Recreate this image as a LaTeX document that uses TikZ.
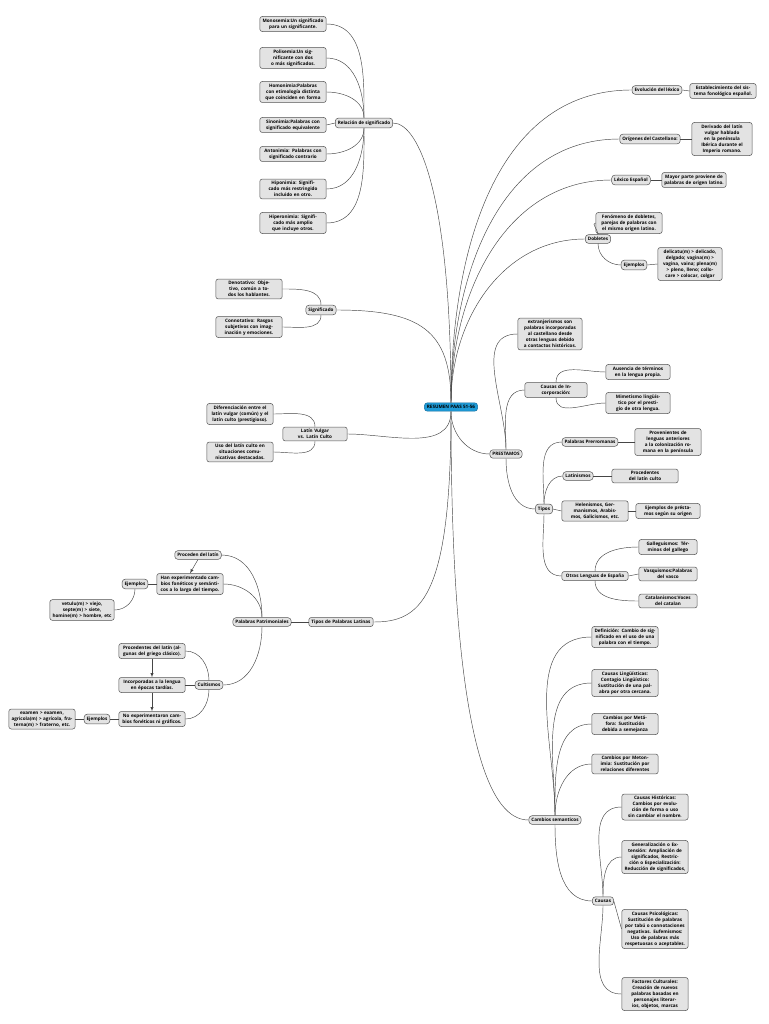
\documentclass[tikz,border=0pt]{standalone}
\usepackage{fontspec}
\setmainfont{Open Sans}
\begin{document}
\begin{tikzpicture}[x=1pt,y=-1pt,
  box/.style={draw=gray!65!black, fill=gray!22, rounded corners=2.5pt, align=center,
    font=\fontsize{4.6}{6}\selectfont\bfseries, inner sep=2.2pt, text width=#1pt, line width=0.5pt},
  box/.default=60,
  tag/.style={draw=gray!65!black, fill=gray!22, rounded corners=3pt, align=center,
    font=\fontsize{4.6}{6}\selectfont\bfseries, inner sep=2.5pt, line width=0.5pt},
  ln/.style={draw=gray!55!black, line width=0.45pt},
  arr/.style={ln, -latex}]
\useasboundingbox (0,0) rectangle (768,1024);
\fill[white] (0,0) rectangle (768,1024);

% centre
\node[tag, fill={rgb,255:red,30;green,155;blue,215}, draw={rgb,255:red,20;green,110;blue,160}] (main) at (451,407) {RESUMEN PAAS 51-56};

% ---------- left top
\node[tag] (rel) at (364,123) {Relación de significado};
\node[box=62] (mono) at (293,24) {Monosemia:Un significado para un significante.};
\node[box=62] (poli) at (293,58) {Polisemia:Un significante con dos o más significados.};
\node[box=62] (homo) at (293,92) {Homonimia:Palabras con etimología distinta que coinciden en forma};
\node[box=62] (sino) at (293,125) {Sinonimia:Palabras con significado equivalente};
\node[box=62] (anto) at (293,154) {Antonimia: Palabras con significado contrario};
\node[box=62] (hipo) at (293,189) {Hiponimia: Significado más restringido incluido en otro.};
\node[box=62] (hipe) at (293,223) {Hiperonimia: Significado más amplio que incluye otros.};
\foreach \n in {mono,poli,homo} \draw[ln] (rel.north) to[out=90,in=0] (\n.east);
\draw[ln] (rel.west) -- (sino.east);
\foreach \n in {anto,hipo,hipe} \draw[ln] (rel.south) to[out=-90,in=0] (\n.east);
\draw[ln] (main.north) .. controls (451,200) and (420,123) .. (rel.east);

\node[tag] (sig) at (321,310) {Significado};
\node[box=62] (deno) at (249,289) {Denotativo: Objetivo, común a todos los hablantes.};
\node[box=62] (conno) at (249,327) {Connotativo: Rasgos subjetivos con imaginación y emociones.};
\draw[ln] (sig.north) to[out=90,in=0] (deno.east);
\draw[ln] (sig.south) to[out=-90,in=0] (conno.east);
\draw[ln] (main.north) .. controls (451,330) and (420,310) .. (sig.east);

\node[box=60] (lvc) at (315,434) {Latín Vulgar vs. Latín Culto};
\node[box=62] (dif) at (240,414) {Diferenciación entre el latín vulgar (común) y el latín culto (prestigioso).};
\node[box=62] (uso) at (240,452) {Uso del latín culto en situaciones comunicativas destacadas.};
\draw[ln] (lvc.north) to[out=90,in=0] (dif.east);
\draw[ln] (lvc.south) to[out=-90,in=0] (uso.east);
\draw[ln] (main.south) to[out=-90,in=0] (lvc.east);

% ---------- left bottom
\node[box=60] (tipos) at (341,622) {Tipos de Palabras Latinas};
\node[tag] (patr) at (262,622) {Palabras Patrimoniales};
\node[tag] (proc) at (198,555) {Proceden del latín};
\node[box=62] (han) at (190,584) {Han experimentado cambios fonéticos y semánticos a lo largo del tiempo.};
\node[tag] (ej1) at (135,584) {Ejemplos};
\node[box=60] (vet) at (82,610) {vetulu(m) > viejo, septe(m) > siete, homine(m) > hombre, etc};
\node[tag] (cult) at (209,685) {Cultismos};
\node[box=62] (pdl) at (152,651) {Procedentes del latín (algunas del griego clásico).};
\node[box=62] (inc) at (152,685) {Incorporadas a la lengua en épocas tardías.};
\node[box=62] (noe) at (152,719) {No experimentaron cambios fonéticos ni gráficos.};
\node[tag] (ej2) at (97,719) {Ejemplos};
\node[box=62] (exa) at (42,719) {examen > examen, agricola(m) > agrícola, fraterna(m) > fraterno, etc.};
\draw[ln] (main.south) .. controls (451,600) and (420,622) .. (tipos.east);
\draw[ln] (tipos.west) -- (patr.east);
\draw[ln] (patr.north) to[out=90,in=0] (proc.east);
\draw[ln] (patr.north) to[out=90,in=0] (han.east);
\draw[ln] (patr.south) to[out=-90,in=0] (cult.east);
\draw[arr] (proc.south) -- (han.north);
\draw[ln] (han.west) -- (ej1.east);
\draw[ln] (ej1.south) to[out=-90,in=0] (vet.east);
\draw[ln] (cult.north) to[out=90,in=0] (pdl.east);
\draw[ln] (cult.west) -- (inc.east);
\draw[ln] (cult.south) to[out=-90,in=0] (noe.east);
\draw[arr] (pdl.south) -- (inc.north);
\draw[arr] (inc.south) -- (noe.north);
\draw[ln] (noe.west) -- (ej2.east);
\draw[ln] (ej2.west) -- (exa.east);

% ---------- right top
\node[tag] (evo) at (657,90) {Evolución del léxico};
\node[box=62] (est) at (723,91) {Establecimiento del sistema fonológico español.};
\node[tag] (ori) at (650,139) {Orígenes del Castellano:};
\node[box=56] (der) at (722,139) {Derivado del latín vulgar hablado en la península Ibérica durante el Imperio romano.};
\node[tag] (lex) at (631,180) {Léxico Español};
\node[box=60] (may) at (694,180) {Mayor parte proviene de palabras de origen latino.};
\node[tag] (dob) at (598,239) {Dobletes};
\node[box=62] (fen) at (629,223) {Fenómeno de dobletes, parejas de palabras con el mismo origen latino.};
\node[tag] (ej3) at (634,265) {Ejemplos};
\node[box=60] (del) at (690,264) {delicatu(m) > delicado, delgado; vagina(m) > vagina, vaina; plena(m) > pleno, lleno; collocare > colocar, colgar};
\foreach \n in {evo,ori,lex,dob} \draw[ln] (main.north) to[out=90,in=180] (\n.west);
\draw[ln] (evo.east) -- (est.west);
\draw[ln] (ori.east) -- (der.west);
\draw[ln] (lex.east) -- (may.west);
\draw[ln] (dob.north) to[out=90,in=180] (fen.west);
\draw[ln] (dob.south) to[out=-90,in=180] (ej3.west);
\draw[ln] (ej3.east) -- (del.west);

% ---------- prestamos
\node[tag] (pres) at (506,454) {PRESTAMOS};
\node[box=60] (ext) at (550,334) {extranjerismos son palabras incorporadas al castellano desde otras lenguas debido a contactos históricos.};
\node[box=58] (cau) at (556,390) {Causas de Incorporación:};
\node[box=60] (aus) at (638,372) {Ausencia de términos en la lengua propia.};
\node[box=60] (mim) at (638,403) {Mimetismo lingüístico por el prestigio de otra lengua.};
\node[tag] (tip) at (544,509) {Tipos};
\node[tag] (prer) at (590,442) {Palabras Prerromanas};
\node[box=62] (prov) at (668,442) {Provenientes de lenguas anteriores a la colonización romana en la península};
\node[tag] (lat) at (578,476) {Latinismos};
\node[box=62] (pcu) at (645,476) {Procedentes del latín culto};
\node[box=62] (hel) at (595,511) {Helenismos, Germanismos, Arabismos, Galicismos, etc.};
\node[box=60] (ejp) at (668,511) {Ejemplos de préstamos según su origen};
\node[box=62] (otr) at (595,576) {Otras Lenguas de España};
\node[box=54] (gal) at (668,547) {Galleguismos: Términos del gallego};
\node[box=54] (vas) at (668,574) {Vasquismos:Palabras del vasco};
\node[box=54] (cat) at (668,601) {Catalanismos:Voces del catalan};
\draw[ln] (main.south) to[out=-90,in=180] (pres.west);
\draw[ln] (pres.north) to[out=90,in=180] (ext.west);
\draw[ln] (pres.north) to[out=90,in=180] (cau.west);
\draw[ln] (pres.south) to[out=-90,in=180] (tip.west);
\draw[ln] (cau.north) to[out=90,in=180] (aus.west);
\draw[ln] (cau.south) to[out=-90,in=180] (mim.west);
\draw[ln] (tip.north) to[out=90,in=180] (prer.west);
\draw[ln] (tip.north) to[out=90,in=180] (lat.west);
\draw[ln] (tip.east) -- (hel.west);
\draw[ln] (tip.south) to[out=-90,in=180] (otr.west);
\draw[ln] (prer.east) -- (prov.west);
\draw[ln] (lat.east) -- (pcu.west);
\draw[ln] (hel.east) -- (ejp.west);
\draw[ln] (otr.north) to[out=90,in=180] (gal.west);
\draw[ln] (otr.east) -- (vas.west);
\draw[ln] (otr.south) to[out=-90,in=180] (cat.west);

% ---------- cambios semanticos
\node[tag] (cam) at (555,820) {Cambios semanticos};
\node[box=62] (def) at (625,637) {Definición: Cambio de significado en el uso de una palabra con el tiempo.};
\node[box=62] (cli) at (625,683) {Causas Lingüísticas: Contagio Lingüístico: Sustitución de una palabra por otra cercana.};
\node[box=62] (met) at (625,724) {Cambios por Metáfora: Sustitución debida a semejanza};
\node[box=62] (meto) at (625,764) {Cambios por Metonimia: Sustitución por relaciones diferentes};
\node[tag] (caus) at (603,901) {Causas};
\node[box=62] (his) at (655,807) {Causas Históricas: Cambios por evolución de forma o uso sin cambiar el nombre.};
\node[box=62] (gen) at (655,857) {Generalización o Extensión: Ampliación de significados, Restricción o Especialización: Reducción de significados,};
\node[box=62] (psi) at (655,929) {Causas Psicológicas: Sustitución de palabras por tabú o connotaciones negativas. Eufemismos: Uso de palabras más respetuosas o aceptables.};
\node[box=62] (fac) at (655,994) {Factores Culturales: Creación de nuevos palabras basadas en personajes literarios, objetos, marcas};
\draw[ln] (main.south) .. controls (451,780) and (500,820) .. (cam.west);
\foreach \n in {def,cli,met,meto} \draw[ln] (cam.north) to[out=90,in=180] (\n.west);
\draw[ln] (cam.south) to[out=-90,in=180] (caus.west);
\foreach \n in {his,gen} \draw[ln] (caus.north) to[out=90,in=180] (\n.west);
\draw[ln] (caus.east) -- (psi.west);
\draw[ln] (caus.south) to[out=-90,in=180] (fac.west);
\end{tikzpicture}
\end{document}
